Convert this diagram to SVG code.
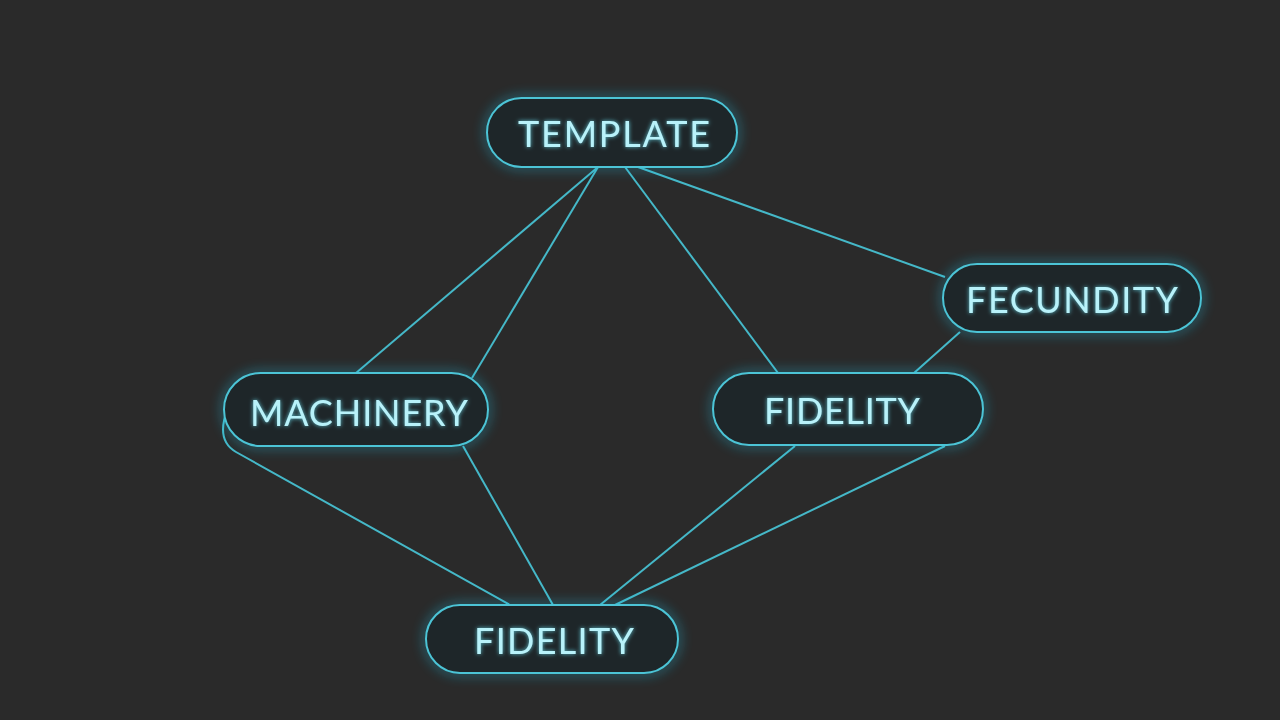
<svg xmlns="http://www.w3.org/2000/svg" width="1280" height="720" viewBox="0 0 1280 720">
<defs>
<style>
.pill{fill:#1e2629;stroke:#4cc4d6;stroke-width:2}
.halo{fill:none;stroke:#1ec8f0;stroke-width:5;opacity:0.5}
.lbl{font-family:"Lato","Noto Sans",sans-serif;font-size:36px;font-weight:400;fill:#b8f2fa;text-anchor:middle;dominant-baseline:central}
.edge{stroke:#45b8c8;stroke-width:2;fill:none}
</style>
<filter id="glow" x="-30%" y="-60%" width="160%" height="220%">
<feGaussianBlur stdDeviation="6"/>
</filter>
<filter id="tglow" x="-10%" y="-40%" width="120%" height="180%">
<feGaussianBlur in="SourceGraphic" stdDeviation="2" result="b"/>
<feColorMatrix in="b" type="matrix" values="0 0 0 0 0.15  0 0 0 0 0.8  0 0 0 0 0.95  0 0 0 0.8 0" result="c"/>
<feMerge><feMergeNode in="c"/><feMergeNode in="SourceGraphic"/></feMerge>
</filter>
</defs>
<rect width="1280" height="720" fill="#2a2a2a"/>
<g id="connectors">
<line class="edge" x1="598" y1="167" x2="356" y2="373"/>
<line class="edge" x1="598" y1="167" x2="472" y2="378"/>
<line class="edge" x1="625" y1="167" x2="778" y2="373"/>
<line class="edge" x1="638" y1="167" x2="945" y2="277"/>
<line class="edge" x1="960" y1="332" x2="914" y2="373"/>
<path class="edge" d="M228 408 Q215 440 236 452 L510 605"/>
<line class="edge" x1="463" y1="446" x2="553" y2="605"/>
<line class="edge" x1="795" y1="446" x2="600" y2="605"/>
<line class="edge" x1="945" y1="446" x2="615" y2="605"/>
</g>
<g id="node-template">
<rect class="halo" x="487" y="98" width="250" height="69" rx="34.5" filter="url(#glow)"/>
<rect class="pill" x="487" y="98" width="250" height="69" rx="34.5"/>
<text class="lbl" x="614" y="133" textLength="192" filter="url(#tglow)">TEMPLATE</text>
</g>
<g id="node-machinery">
<rect class="halo" x="224" y="373" width="264" height="73" rx="36.5" filter="url(#glow)"/>
<rect class="pill" x="224" y="373" width="264" height="73" rx="36.5"/>
<text class="lbl" x="359" y="412" textLength="218" filter="url(#tglow)">MACHINERY</text>
</g>
<g id="node-fidelity-right">
<rect class="halo" x="713" y="373" width="270" height="72" rx="36" filter="url(#glow)"/>
<rect class="pill" x="713" y="373" width="270" height="72" rx="36"/>
<text class="lbl" x="842" y="410" textLength="156" filter="url(#tglow)">FIDELITY</text>
</g>
<g id="node-fecundity">
<rect class="halo" x="943" y="264" width="258" height="68" rx="34" filter="url(#glow)"/>
<rect class="pill" x="943" y="264" width="258" height="68" rx="34"/>
<text class="lbl" x="1072" y="299" textLength="212" filter="url(#tglow)">FECUNDITY</text>
</g>
<g id="node-fidelity-bottom">
<rect class="halo" x="426" y="605" width="252" height="68" rx="34" filter="url(#glow)"/>
<rect class="pill" x="426" y="605" width="252" height="68" rx="34"/>
<text class="lbl" x="554" y="640" textLength="160" filter="url(#tglow)">FIDELITY</text>
</g>
</svg>
